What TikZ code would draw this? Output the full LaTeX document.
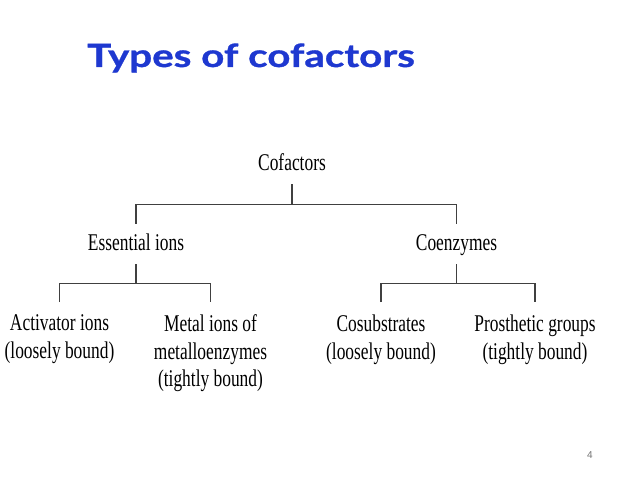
\documentclass[tikz,border=0pt]{standalone}
\usepackage{fontspec}
\setmainfont{Liberation Serif}
\newfontfamily\lblfont[FakeStretch=0.725]{Liberation Serif}
\newfontfamily\ttlfont[FakeStretch=1.26,FakeBold=1]{Lato}
\newfontfamily\numfont{Liberation Sans}
\usetikzlibrary{positioning}

\definecolor{ttlblue}{RGB}{30,56,208}
\tikzset{
  lbl/.style={font={\lblfont\fontsize{24}{27.5}\selectfont}, align=center,
              inner xsep=0pt, inner ysep=12.5pt},
  one/.style={lbl, inner ysep=7pt, text height=20pt, text depth=6pt},
  link/.style={line width=1.1pt, black!75},
}

\begin{document}
\begin{tikzpicture}[x=1pt,y=-1pt,node distance=80pt,on grid]
   \fill[white] (0,0) rectangle (638,478);
   \useasboundingbox (0,0) rectangle (638,478);
   \node[anchor=base west, inner sep=0pt, text=ttlblue,
         font={\ttlfont\bfseries\fontsize{32}{32}\selectfont}] (title) at (87,67) {Types of cofactors};
   \node[one, anchor=base] (cof) at (292,171) {Cofactors};
   \node[one] (ess) [below left=80pt and 156pt of cof.base, anchor=base] {Essential ions};
   \node[one] (coe) [below right=80pt and 164.5pt of cof.base, anchor=base] {Coenzymes};
   \node[lbl] (act) [below left=38pt and 76.5pt of ess.south, anchor=north] {Activator ions\\(loosely bound)};
   \node[lbl] (met) [below right=38pt and 74.5pt of ess.south, anchor=north] {Metal ions of\\metalloenzymes\\(tightly bound)};
   \node[lbl] (cos) [below left=38pt and 75.5pt of coe.south, anchor=north] {Cosubstrates\\(loosely bound)};
   \node[lbl] (pro) [below right=38pt and 78.5pt of coe.south, anchor=north] {Prosthetic groups\\(tightly bound)};
   \node[font={\numfont\fontsize{10}{10}\selectfont}, text=black!55] (page) at (590,455) {4};
   % tree
   \draw[link] (cof.south) -- ++(0,-20pt) coordinate (top);
   \draw[link] (ess.north) |- (top) -| (coe.north);
   \draw[link] (ess.south) -- ++(0,-19pt) coordinate (left);
   \draw[link] (act.north) |- (left) -| (met.north);
   \draw[link] (coe.south) -- ++(0,-19pt) coordinate (right);
   \draw[link] (cos.north) |- (right) -| (pro.north);
\end{tikzpicture}
\end{document}
